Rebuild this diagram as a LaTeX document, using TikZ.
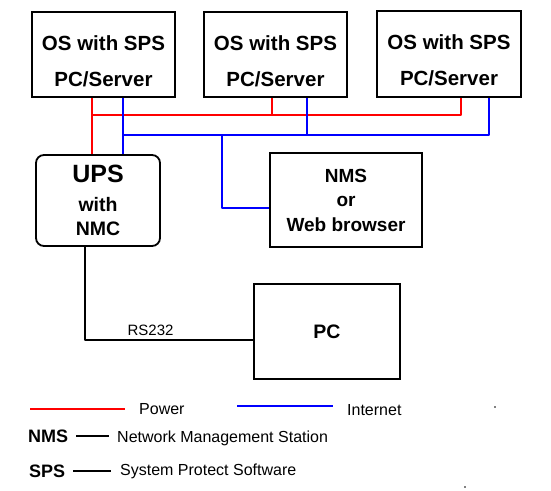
\documentclass[tikz,border=0pt]{standalone}
\usepackage{fontspec}
\setmainfont{Liberation Sans}
\definecolor{powerred}{RGB}{255,0,0}
\definecolor{netblue}{RGB}{0,0,255}
\tikzset{
	hostbox/.style={draw, line width=1.8pt, line join=miter, inner sep=0pt},
	boxtext/.style={font=\fontsize{20.5}{36}\selectfont\bfseries, align=center, inner sep=0pt},
	power/.style={draw=powerred, line width=2.8pt},
	net/.style={draw=netblue, line width=2.8pt},
	serial/.style={line width=2.4pt},
	legtext/.style={font=\fontsize{16}{19}\selectfont, inner sep=0pt, anchor=base west},
	legabbr/.style={font=\fontsize{18}{21}\selectfont\bfseries, inner sep=0pt, anchor=base west},
}
\begin{document}
\begin{tikzpicture}[x=1pt, y=-1pt, line join=round]
		\useasboundingbox (0,0) rectangle (551,490);
		% hosts
		\node[hostbox, minimum width=143pt, minimum height=85pt,
			label={[boxtext, yshift=-6.5pt]center:{OS with SPS\\PC/Server}}] (srv1) at (103.5,54.5) {};
		\node[hostbox, minimum width=143pt, minimum height=85pt,
			label={[boxtext, yshift=-6.5pt]center:{OS with SPS\\PC/Server}}] (srv2) at (275.5,54.5) {};
		\node[hostbox, minimum width=144pt, minimum height=86pt,
			label={[boxtext, yshift=-6.5pt]center:{OS with SPS\\PC/Server}}] (srv3) at (449,54) {};
		\node[hostbox, rounded corners=8pt, minimum width=124pt, minimum height=91pt, align=center,
			font=\fontsize{19.5}{24}\selectfont\bfseries] (ups) at (98,200.5) {{\fontsize{25}{25}\selectfont UPS}\\[5pt]with\\NMC};
		\node[hostbox, minimum width=152pt, minimum height=94pt, align=center,
			font=\fontsize{19}{24.5}\selectfont\bfseries] (nms) at (346,200) {NMS\\or\\Web browser};
		\node[hostbox, minimum width=146pt, minimum height=95pt,
			font=\fontsize{19.5}{24}\selectfont\bfseries] (pc) at (327,331.5) {PC};
		\coordinate (pbus) at (92,115);
		\coordinate (nbus) at (123,135);
		\coordinate (nbr) at (222,135);
		% power
		\draw[power] (pbus |- srv1.south) -- (pbus |- ups.north);
		\draw[power] ([xshift=-3.5pt]srv2.south) -- ([xshift=-3.5pt]srv2.south |- pbus);
		\draw[power] (pbus) -| ([xshift=12pt]srv3.south);
		% internet
		\draw[net] (nbus |- srv1.south) -- (nbus |- ups.north);
		\draw[net] ([xshift=31.5pt]srv2.south) -- ([xshift=31.5pt]srv2.south |- nbus);
		\draw[net] (nbus) -| ([xshift=40pt]srv3.south);
		\draw[net] (nbr) |- ([yshift=-8pt]nms.west);
		% serial
		\draw[serial] ([xshift=-13pt]ups.south) |- ([yshift=-8.5pt]pc.west)
			node[pos=0.695, above, font=\fontsize{15}{18}\selectfont] (rs) {RS232};
		% legend
		\coordinate (pkey) at (30,409);
		\coordinate (nkey) at (237,406);
		\draw[draw=powerred, line width=2.2pt] (pkey) -- ++(95,0);
		\draw[draw=netblue, line width=2.2pt] (nkey) -- ++(96,0);
		\node[legtext] (pwrtxt) at (139,414) {Power};
		\node[legtext] (nettxt) at (347,415) {Internet};
		\node[legabbr] (nmsab) at (28,442) {NMS};
		\node[legtext] (nmsdesc) at (117,442) {Network Management Station};
		\node[legabbr] (spsab) at (29,477) {SPS};
		\node[legtext] (spsdesc) at (120,475) {System Protect Software};
		\draw[line width=1.4pt, shorten <=8pt, shorten >=8pt] (nmsab.east) -- (nmsab.east -| nmsdesc.west);
		\draw[line width=1.4pt, shorten <=8pt, shorten >=9pt] (spsab.east) -- (spsab.east -| spsdesc.west);
		\fill (495,407) circle (0.8);
		\fill (465,487) circle (0.8);
	\end{tikzpicture}
\end{document}
